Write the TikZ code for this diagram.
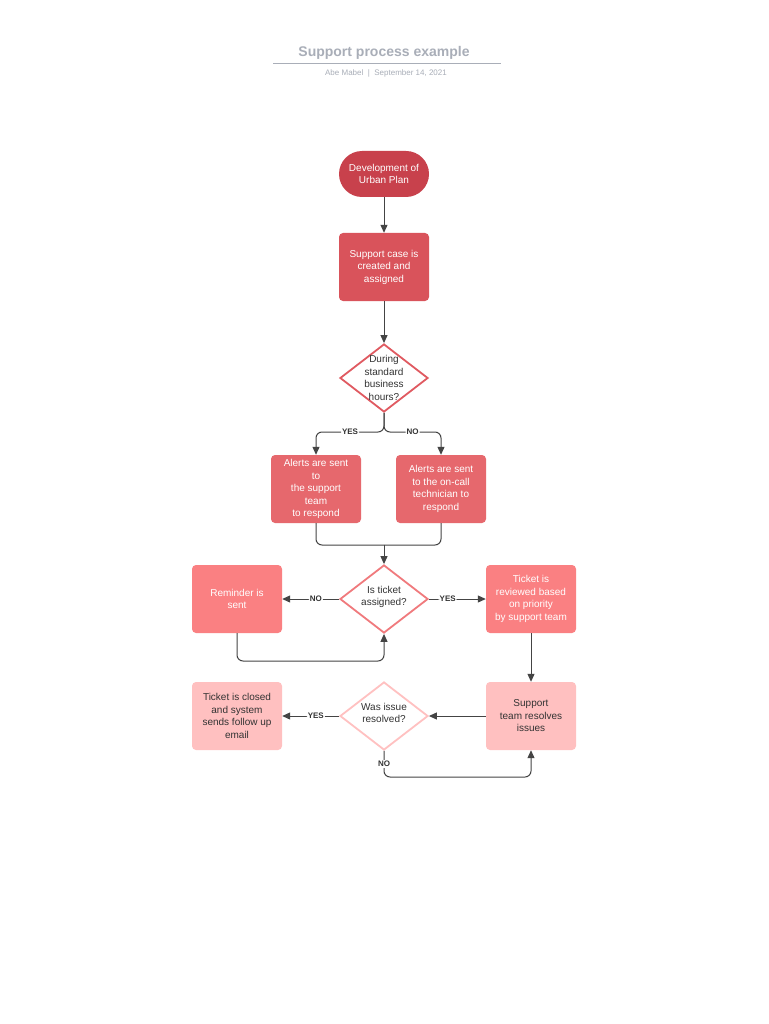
\documentclass[tikz,border=0pt]{standalone}
\usepackage{fontspec}
\setmainfont{Liberation Sans}
\usetikzlibrary{shapes.geometric,arrows.meta}
\definecolor{cstart}{HTML}{C8414C}
\definecolor{cone}{HTML}{D9535B}
\definecolor{cdone}{HTML}{E05A61}
\definecolor{cthree}{HTML}{E6686D}
\definecolor{cdtwo}{HTML}{F07A7D}
\definecolor{cfour}{HTML}{FA8082}
\definecolor{cdthree}{HTML}{FFC1C1}
\definecolor{cfive}{HTML}{FFC0C0}
\definecolor{titlegray}{HTML}{A9AEB8}
\definecolor{linegray}{HTML}{444444}
\definecolor{txtdark}{HTML}{333333}
\tikzset{
  boxnode/.style={rectangle, rounded corners=4pt, minimum width=90pt, minimum height=68pt, inner sep=2pt, align=center, text=white, font=\fontsize{10}{12.5}\selectfont},
  dianode/.style={diamond, minimum width=88pt, minimum height=68pt, inner sep=0pt, fill=white, line width=1.8pt},
  diatext/.style={align=center, text=txtdark, font=\fontsize{10}{12.5}\selectfont, inner sep=0pt},
  conn/.style={draw=linegray, line width=1pt, -{Triangle[width=7pt,length=8pt]}, rounded corners=6pt},
  plainconn/.style={draw=linegray, line width=1pt, rounded corners=6pt},
  lbl/.style={fill=white, text=txtdark, font=\bfseries\fontsize{8}{9}\selectfont, inner sep=1pt}
}
\begin{document}
\begin{tikzpicture}[x=1pt,y=-1pt]
\useasboundingbox (0,0) rectangle (768,1024);
\fill[white] (0,0) rectangle (768,1024);
% title
\node[text=titlegray, font=\bfseries\fontsize{14}{16}\selectfont] (title) at (384,52.5) {Support process example};
\coordinate (tl) at (273,63.5);
\coordinate (tr) at (501,63.5);
\draw[titlegray, line width=0.8pt] (tl) -- (tr);
\node[text=titlegray, font=\fontsize{8}{9}\selectfont] (sub) at (386,73) {Abe Mabel \ \textbar\ \ September 14, 2021};
% nodes
\node[boxnode, fill=cstart, minimum height=46pt, rounded corners=23pt] (start) at (384,174) {Development of\\Urban Plan};
\node[boxnode, fill=cone] (b1) at (384,267) {Support case is\\created and\\assigned};
\node[dianode, draw=cdone] (d1) at (384,378) {};
\node[diatext] (d1t) at (384,378) {During\\standard\\business\\hours?};
\node[boxnode, fill=cthree] (l3) at (316,489) {Alerts are sent\\to\\the support\\team\\to respond};
\node[boxnode, fill=cthree] (r3) at (441,489) {Alerts are sent\\to the on-call\\technician to\\respond};
\node[dianode, draw=cdtwo] (d2) at (384,599) {};
\node[diatext] (d2t) at (384,597) {Is ticket\\assigned?};
\node[boxnode, fill=cfour] (rem) at (237,599) {Reminder is\\sent};
\node[boxnode, fill=cfour] (rev) at (531,599) {Ticket is\\reviewed based\\on priority\\by support team};
\node[boxnode, fill=cfive, text=txtdark] (res) at (531,716) {Support\\team resolves\\issues};
\node[dianode, draw=cdthree] (d3) at (384,716) {};
\node[diatext] (d3t) at (384,713) {Was issue\\resolved?};
\node[boxnode, fill=cfive, text=txtdark] (clo) at (237,716) {Ticket is closed\\and system\\sends follow up\\email};
% coordinates
\coordinate (split) at (384,432);
\coordinate (merge) at (384,545);
\coordinate (loopa) at (237,661);
\coordinate (loopb) at (384,777);
% connectors
\draw[conn] (start) -- (b1);
\draw[conn] (b1) -- (d1);
\draw[conn] (d1.south) -- (split) -| node[lbl, pos=0.25] (yes1) {YES} (l3.north);
\draw[conn] (d1.south) -- (split) -| node[lbl, pos=0.25] (no1) {NO} (r3.north);
\draw[plainconn] (l3.south) |- (merge);
\draw[plainconn] (r3.south) |- (merge);
\draw[conn] (merge) -- (d2.north);
\draw[conn] (d2.west) -- node[lbl, pos=0.41] (no2) {NO} (rem.east);
\draw[conn] (d2.east) -- node[lbl, pos=0.33] (yes2) {YES} (rev.west);
\draw[conn] (rem.south) |- (loopa -| d2.south) -- (d2.south);
\draw[conn] (rev.south) -- (res.north);
\draw[conn] (res.west) -- (d3.east);
\draw[conn] (d3.west) -- node[lbl, pos=0.41] (yes3) {YES} (clo.east);
\draw[conn] (d3.south) -- node[lbl, pos=0.5] (no3) {NO} (loopb) -| (res.south);
\end{tikzpicture}
\end{document}
